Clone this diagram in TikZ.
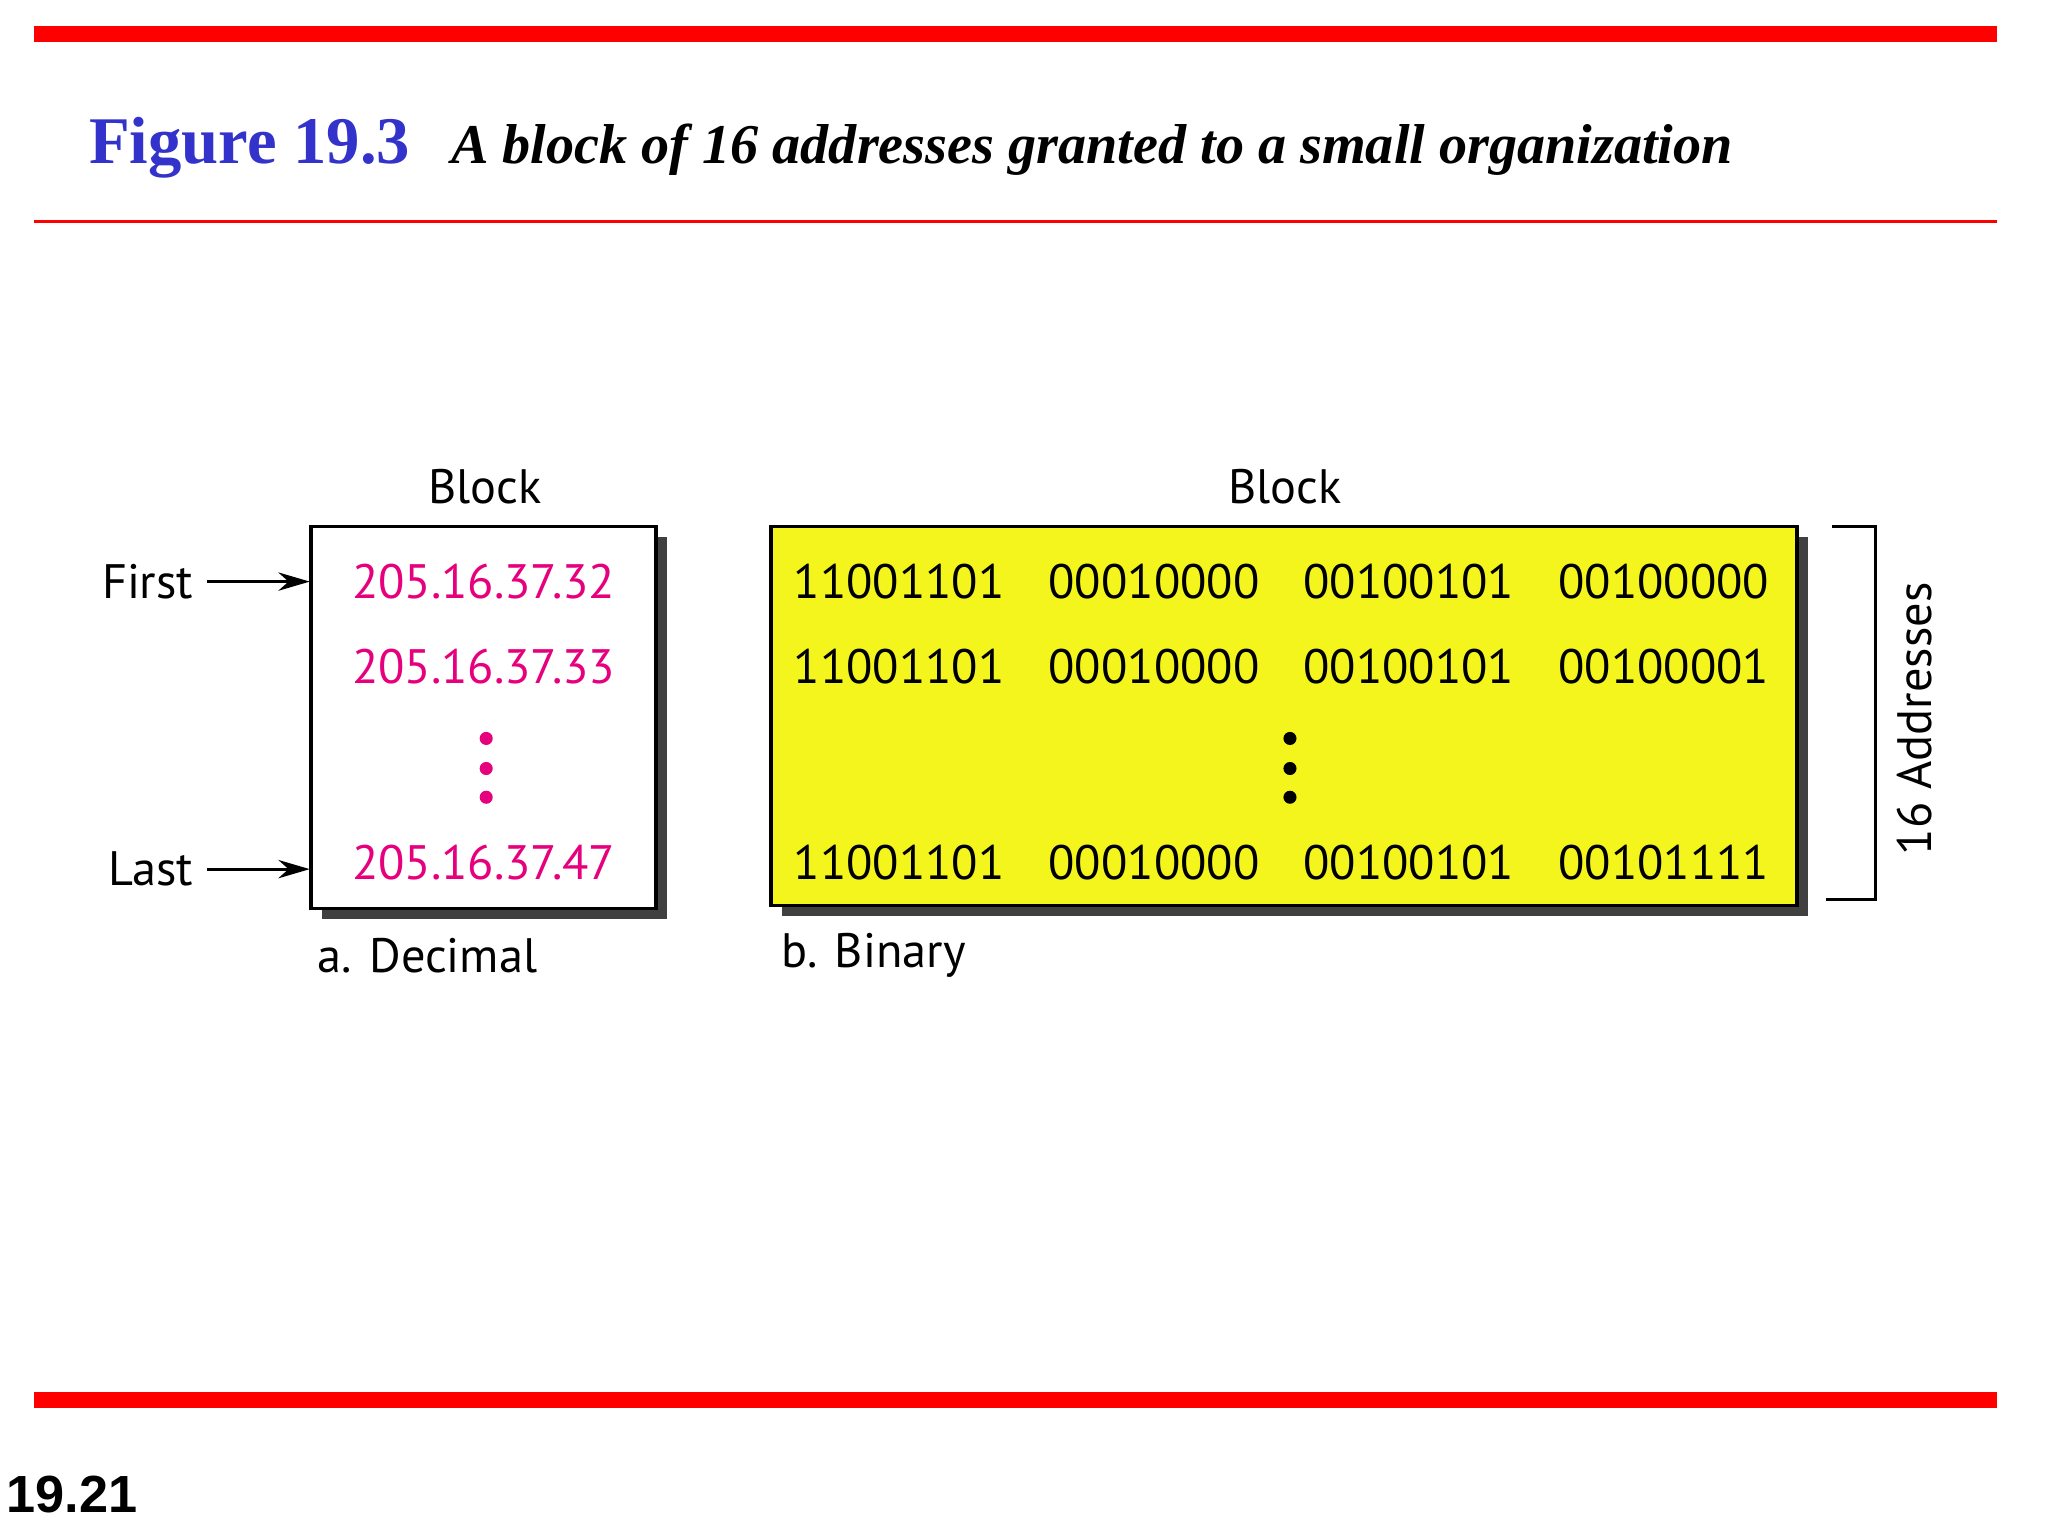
\documentclass[tikz,border=0pt]{standalone}
\usepackage{fontspec}
\usetikzlibrary{arrows.meta}
\setmainfont{Liberation Serif}
\setsansfont{PT Sans}
\newfontfamily\arialf{Liberation Sans}
\definecolor{figred}{RGB}{255,0,0}
\definecolor{figblue}{RGB}{51,51,204}
\definecolor{mag}{RGB}{230,0,126}
\definecolor{yel}{RGB}{245,245,30}
\begin{document}
\begin{tikzpicture}[x=1pt,y=-1pt,
  lbl/.style={font=\sffamily\fontsize{37}{40}\selectfont,inner sep=0pt},
  mtxt/.style={lbl,text=mag},
  mdot/.style={circle,fill=mag,inner sep=0pt,minimum size=10pt},
  kdot/.style={circle,fill=black,inner sep=0pt,minimum size=10pt},
  arr/.style={-{Stealth[length=24pt,width=14pt]},line width=2.5pt}]
\useasboundingbox (0,0) rectangle (1567,1175);
\fill[white] (0,0) rectangle (1567,1175);
\fill[figred] (26,20) rectangle (1528,32);
\fill[figred] (26,168) rectangle (1528,171);
\fill[figred] (26,1065) rectangle (1528,1077);
\node[anchor=base west,inner sep=0pt,text=figblue,font=\bfseries\fontsize{51}{54}\selectfont] (fig) at (68,125) {Figure 19.3};
\node[anchor=base west,inner sep=0pt,font=\bfseries\itshape\fontsize{43}{46}\selectfont] (ttl) at (345,125) {A block of 16 addresses granted to a small organization};
\node[anchor=base west,inner sep=0pt,font=\arialf\bfseries\fontsize{40}{44}\selectfont] (pg) at (5,1157) {19.21};
% left box
\fill[black!75] (246,411) rectangle (510,703);
\draw[line width=2.5pt,fill=white] (238,403) rectangle (502,695);
\node[mtxt] (d1) at (370,445) {205.16.37.32};
\node[mtxt] (d2) at (370,510) {205.16.37.33};
\node[mdot] (m1) at (372,565) {};
\node[mdot] (m2) at (372,588) {};
\node[mdot] (m3) at (372,610) {};
\node[mtxt] (d3) at (370,660) {205.16.37.47};
\node[lbl] (b1) at (371,372) {Block};
\node[lbl,anchor=east] (first) at (148,445) {First};
\node[lbl,anchor=east] (last) at (148,665) {Last};
\coordinate (fa) at (237,445);
\coordinate (la) at (237,665);
\draw[arr] ([xshift=10pt]first.east) -- (fa);
\draw[arr] ([xshift=10pt]last.east) -- (la);
\node[lbl,anchor=west] (adec) at (243,731) {a. Decimal};
% right box
\fill[black!75] (598,411) rectangle (1383,701);
\draw[line width=2.5pt,fill=yel] (590,403) rectangle (1375,693);
\node[lbl] (b2) at (983,372) {Block};
\foreach \y/\d in {445/00100000,510/00100001,660/00101111}{
  \node[lbl] at (688,\y) {11001101};
  \node[lbl] at (883,\y) {00010000};
  \node[lbl] at (1078,\y) {00100101};
  \node[lbl] at (1273,\y) {\d};
}
\node[kdot] (k1) at (987,565) {};
\node[kdot] (k2) at (987,588) {};
\node[kdot] (k3) at (987,610) {};
\node[lbl,anchor=west] (bbin) at (598,731) {b. Binary};
\draw[line width=2.5pt] (1402,403) -- (1435,403) -- (1435,688) -- (1397,688);
\node[lbl,rotate=90] (sixteen) at (1465,550) {16 Addresses};
\end{tikzpicture}
\end{document}
